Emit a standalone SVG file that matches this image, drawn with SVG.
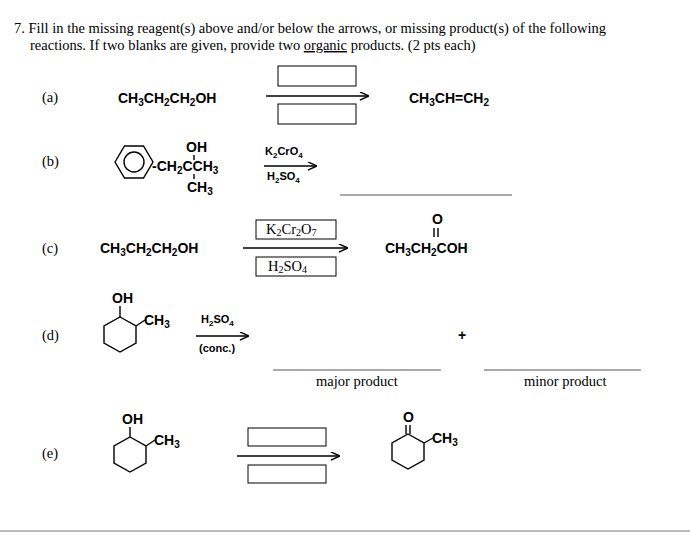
<svg xmlns="http://www.w3.org/2000/svg" width="690" height="534" viewBox="0 0 690 534">
<style>
.t{font-family:"Liberation Serif",serif;font-size:14.5px;fill:#000}
.c{font-family:"Liberation Sans",Arial,sans-serif;font-size:14px;font-weight:bold;fill:#000}
.s{font-family:"Liberation Sans",Arial,sans-serif;font-size:11px;font-weight:bold;fill:#000}
.b{fill:#fff;stroke:#000;stroke-width:1}
.l{stroke:#000;stroke-width:1.4;fill:none}
.u{stroke:#555;stroke-width:1}
</style>
<defs><marker id="a" viewBox="0 0 10 10" refX="9" refY="5" markerWidth="10" markerHeight="9" orient="auto" markerUnits="userSpaceOnUse"><path d="M0,0.5 L10,5 L0,9.5" fill="none" stroke="#000" stroke-width="1.6"/></marker></defs>
<rect width="690" height="534" fill="#fff"/>
<text class="t" x="14" y="33">7. Fill in the missing reagent(s) above and/or below the arrows, or missing product(s) of the following</text>
<text class="t" x="30" y="50">reactions.  If two blanks are given, provide two <tspan text-decoration="underline">organic</tspan> products. (2 pts each)</text>
<g id="labels">
<text class="t" x="42" y="102">(a)</text><text class="t" x="42" y="166">(b)</text><text class="t" x="42" y="253">(c)</text><text class="t" x="42" y="340">(d)</text><text class="t" x="42" y="458">(e)</text>
</g>
<g id="a1"><text class="c" x="118" y="103">CH<tspan font-size="10" dy="3">3</tspan><tspan dy="-3">CH</tspan><tspan font-size="10" dy="3">2</tspan><tspan dy="-3">CH</tspan><tspan font-size="10" dy="3">2</tspan><tspan dy="-3">OH</tspan></text></g>
<g id="a2"><rect class="b" x="278" y="66" width="78" height="20"/><rect class="b" x="278" y="104" width="78" height="20"/></g>
<g id="a3"><text class="c" x="409" y="103">CH<tspan font-size="10" dy="3">3</tspan><tspan dy="-3">CH=CH</tspan><tspan font-size="10" dy="3">2</tspan></text></g>
<g id="b1">
<polygon class="l" points="115,162 124.5,146 143.5,146 153,162 143.5,178 124.5,178"/>
<circle class="l" cx="134" cy="162" r="10"/>
<text class="c" x="186" y="152">OH</text>
<line class="l" x1="194" y1="155" x2="194" y2="160"/>
<text class="c" x="152" y="171">-CH<tspan font-size="10" dy="3">2</tspan><tspan dy="-3">CCH</tspan><tspan font-size="10" dy="3">3</tspan></text>
<line class="l" x1="194" y1="174" x2="194" y2="179"/>
<text class="c" x="187" y="192">CH<tspan font-size="10" dy="3">3</tspan></text>
</g>
<g id="b2"><text class="s" x="265" y="155">K<tspan font-size="8" dy="3">2</tspan><tspan dy="-3">CrO</tspan><tspan font-size="8" dy="3">4</tspan></text><text class="s" x="267" y="180">H<tspan font-size="8" dy="3">2</tspan><tspan dy="-3">SO</tspan><tspan font-size="8" dy="3">4</tspan></text></g>
<g id="b3"><line class="u" x1="340" y1="195" x2="512" y2="195"/></g>
<g id="c1"><text class="c" x="100" y="253">CH<tspan font-size="10" dy="3">3</tspan><tspan dy="-3">CH</tspan><tspan font-size="10" dy="3">2</tspan><tspan dy="-3">CH</tspan><tspan font-size="10" dy="3">2</tspan><tspan dy="-3">OH</tspan></text></g>
<g id="c2"><rect class="b" x="256" y="220" width="80" height="19"/><text class="t" x="266" y="234" font-size="13">K<tspan font-size="10" dy="2">2</tspan><tspan dy="-2">Cr</tspan><tspan font-size="10" dy="2">2</tspan><tspan dy="-2">O</tspan><tspan font-size="10" dy="2">7</tspan></text>
<rect class="b" x="256" y="257" width="80" height="19"/><text class="t" x="268" y="271" font-size="13">H<tspan font-size="10" dy="2">2</tspan><tspan dy="-2">SO</tspan><tspan font-size="10" dy="2">4</tspan></text></g>
<g id="c3"><text class="c" x="432" y="224">O</text><line class="l" x1="434" y1="228" x2="434" y2="237"/><line class="l" x1="438" y1="228" x2="438" y2="237"/>
<text class="c" x="385" y="253">CH<tspan font-size="10" dy="3">3</tspan><tspan dy="-3">CH</tspan><tspan font-size="10" dy="3">2</tspan><tspan dy="-3">COH</tspan></text></g>
<g id="d1"><text class="c" x="112" y="303">OH</text>
<polygon class="l" points="120,317 136,326 136,343 120,352 104,343 104,326"/><line class="l" x1="120" y1="306" x2="120" y2="317"/><line class="l" x1="136" y1="326" x2="145" y2="320"/>
<text class="c" x="144" y="325">CH<tspan font-size="10" dy="3">3</tspan></text></g>
<g id="d2"><text class="s" x="201" y="323">H<tspan font-size="8" dy="3">2</tspan><tspan dy="-3">SO</tspan><tspan font-size="8" dy="3">4</tspan></text><text class="s" x="199" y="352">(conc.)</text></g>
<g id="d3"><text class="c" x="458" y="340">+</text><line class="u" x1="273" y1="370" x2="441" y2="370"/><text class="t" x="316" y="386" font-size="13">major product</text>
<line class="u" x1="484" y1="370" x2="641" y2="370"/><text class="t" x="524" y="386" font-size="13">minor product</text></g>
<g id="e1"><text class="c" x="122" y="424">OH</text>
<polygon class="l" points="130,437 146,446 146,463 130,472 114,463 114,446"/><line class="l" x1="130" y1="427" x2="130" y2="437"/><line class="l" x1="146" y1="446" x2="155" y2="440"/>
<text class="c" x="154" y="445">CH<tspan font-size="10" dy="3">3</tspan></text></g>
<g id="e2"><rect class="b" x="248" y="428" width="78" height="18"/><rect class="b" x="248" y="465" width="78" height="18"/></g>
<g id="e3"><text class="c" x="403" y="422">O</text><line class="l" x1="406" y1="425" x2="406" y2="434"/><line class="l" x1="410" y1="425" x2="410" y2="434"/>
<polygon class="l" points="408,434 424,443 424,460 408,469 392,460 392,443"/><line class="l" x1="424" y1="443" x2="433" y2="438"/>
<text class="c" x="432" y="443">CH<tspan font-size="10" dy="3">3</tspan></text></g>
<g id="connectors">
<line class="l" x1="266" y1="96" x2="368" y2="96" marker-end="url(#a)"/>
<line class="l" x1="264" y1="166" x2="316" y2="166" marker-end="url(#a)"/>
<line class="l" x1="243" y1="248" x2="347" y2="248" marker-end="url(#a)"/>
<line class="l" x1="196" y1="336" x2="248" y2="336" marker-end="url(#a)"/>
<line class="l" x1="237" y1="456" x2="339" y2="456" marker-end="url(#a)"/>
</g>
<line x1="0" y1="531" x2="690" y2="531" stroke="#bbb" stroke-width="2"/>
</svg>
